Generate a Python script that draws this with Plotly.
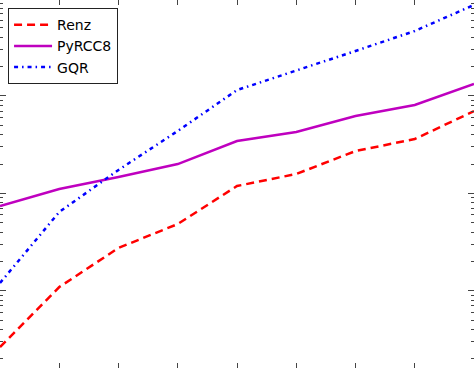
import plotly.graph_objects as go

x_steps = [0, 1, 2, 3, 4, 5, 6, 7, 8]
renz = [0.0264, 0.109, 0.275, 0.484, 1.19, 1.58, 2.72, 3.61, 7.0]
pyrcc8 = [0.741, 1.11, 1.47, 2.0, 3.45, 4.27, 6.23, 8.09, 13.3]
gqr = [0.120, 0.643, 1.74, 4.37, 11.5, 18.1, 29.0, 46.5, 86.1]

major_y = [10.0 ** d for d in range(-2, 3)]
minor_y = [k * 10.0 ** d for d in range(-2, 3) for k in range(2, 10)]

fig = go.Figure()
fig.add_trace(go.Scatter(x=x_steps, y=renz, mode="lines", name="Renz",
                         line=dict(color="#ff0000", width=2.5, dash="8px,5px")))
fig.add_trace(go.Scatter(x=x_steps, y=pyrcc8, mode="lines", name="PyRCC8",
                         line=dict(color="#bf00bf", width=2.5)))
fig.add_trace(go.Scatter(x=x_steps, y=gqr, mode="lines", name="GQR",
                         line=dict(color="#0000ff", width=2.5,
                                   dash="4px,4px,1.5px,4px")))

fig.update_layout(
    width=474, height=368,
    margin=dict(l=0, r=0, t=0, b=0),
    paper_bgcolor="white", plot_bgcolor="white",
    font=dict(family="DejaVu Sans", size=14, color="black"),
    showlegend=True,
    legend=dict(x=0.017, y=0.978, xanchor="left", yanchor="top",
                bordercolor="#222222", borderwidth=1, bgcolor="white",
                font=dict(size=14), itemwidth=38),
    xaxis=dict(range=[0, 8], tickmode="array", tickvals=x_steps,
               showticklabels=False, ticks="inside", ticklen=5,
               tickcolor="#444444", mirror="ticks", showline=False,
               showgrid=False, zeroline=False),
    yaxis=dict(type="log", range=[-1.794, 1.986], tickmode="array",
               tickvals=major_y, showticklabels=False, ticks="inside",
               ticklen=6, tickcolor="#444444", mirror="ticks",
               showline=False, showgrid=False, zeroline=False,
               minor=dict(tickmode="array", tickvals=minor_y, ticks="inside",
                          ticklen=3, tickcolor="#444444", showgrid=False)),
)

fig.write_html("out.html", config={"displayModeBar": False},
               post_script="document.body.style.margin='0';document.body.style.overflow='hidden';")
